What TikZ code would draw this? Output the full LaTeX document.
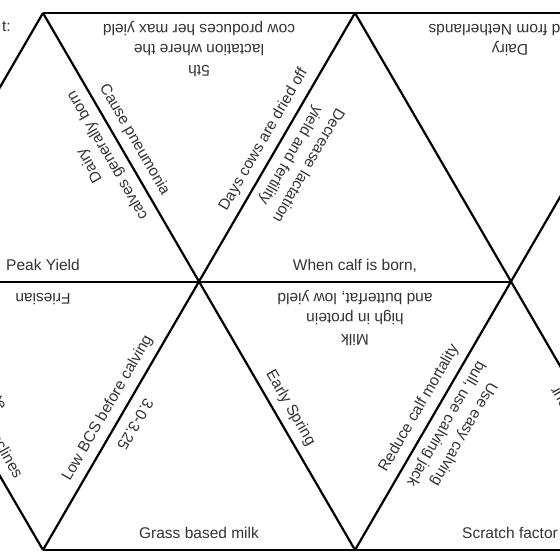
\documentclass[tikz,border=0pt]{standalone}
\usepackage{fontspec}
\setmainfont{Liberation Sans}
\definecolor{txt}{HTML}{333333}
\newcommand\phy{\vphantom{y}}
\tikzset{
  lbl/.style={font=\fontsize{15.5}{20.5}\selectfont, text=txt, inner sep=0pt, anchor=south, align=center},
  edgeline/.style={line width=2.2pt, black}
}
\begin{document}
\begin{tikzpicture}[x=1pt,y=-1pt]
\useasboundingbox (0,0) rectangle (560,560);
\clip (0,0) rectangle (560,560);
\fill[white] (0,0) rectangle (560,560);
% lattice vertices
\coordinate (T1) at (43,13);
\coordinate (T2) at (355,13);
\coordinate (T3) at (667,13);
\coordinate (M0) at (-113,282);
\coordinate (M1) at (199,282);
\coordinate (M2) at (510,282);
\coordinate (B1) at (43,550);
\coordinate (B2) at (355,550);
\coordinate (B3) at (667,550);
% edges
\draw[edgeline] (T1) -- (T3);
\draw[edgeline] (M0) -- (M2);
\draw[edgeline] (B1) -- (B3);
\draw[edgeline] (M0) -- (T1);
\draw[edgeline] (T1) -- (B2);
\draw[edgeline] (T2) -- (B1);
\draw[edgeline] (T2) -- (B3);
\draw[edgeline] (T3) -- (B2);
\draw[edgeline] (M0) -- (B1);
% title fragment
\node[lbl, anchor=base east] (title) at (11,31) {t:};
% top edge texts (upside down)
\node[lbl, rotate=180] (fifth) at (199,21) {5th\\lactation where the\\cow produces her max yield\phy};
\node[lbl, rotate=180] (dutch) at (510,21) {Dairy\\breed from Netherlands\phy};
% middle edge, upper side
\node[lbl] (peak) at (43,274) {Peak Yield\phy};
\node[lbl] (calf) at (355,274) {When calf is born,\phy};
% middle edge, lower side (upside down)
\node[lbl, rotate=180] (fries) at (43,290) {Friesian\phy};
\node[lbl, rotate=180] (milk) at (355,290) {Milk\\high in protein\\and butterfat, low yield\phy};
% bottom edge
\node[lbl] (grass) at (199,542) {Grass based milk\phy};
\node[lbl] (scratch) at (510,542) {Scratch factor\phy};
% slanted edges
\node[lbl, rotate=-60] (pneu) at (127.9,143.5) {Cause pneumonia\phy};
\node[lbl, rotate=120] (born) at (114.1,151.5) {Dairy\\calves generally born\phy};
\node[lbl, rotate=60] (dried) at (270.1,143.5) {Days cows are dried off\phy};
\node[lbl, rotate=-120] (decr) at (283.9,151.5) {Decrease lactation\\yield and fertility\phy};
\node[lbl, rotate=60] (bcs) at (114.1,412) {Low BCS before calving\phy};
\node[lbl, rotate=-120] (score) at (127.9,420) {3.0-3.25\phy};
\node[lbl, rotate=-60] (spring) at (283.9,412) {Early Spring\phy};
\node[lbl, rotate=60] (mort) at (425.6,412) {Reduce calf mortality\phy};
\node[lbl, rotate=-120] (bull) at (439.4,420) {Use easy calving\\bull, use calving jack\phy};
\node[lbl, rotate=-60] (late) at (-28.1,412) {late\\lactation, yield declines\phy};
\node[lbl, rotate=120] (colour) at (581.6,420) {white colour\phy};
\end{tikzpicture}
\end{document}
